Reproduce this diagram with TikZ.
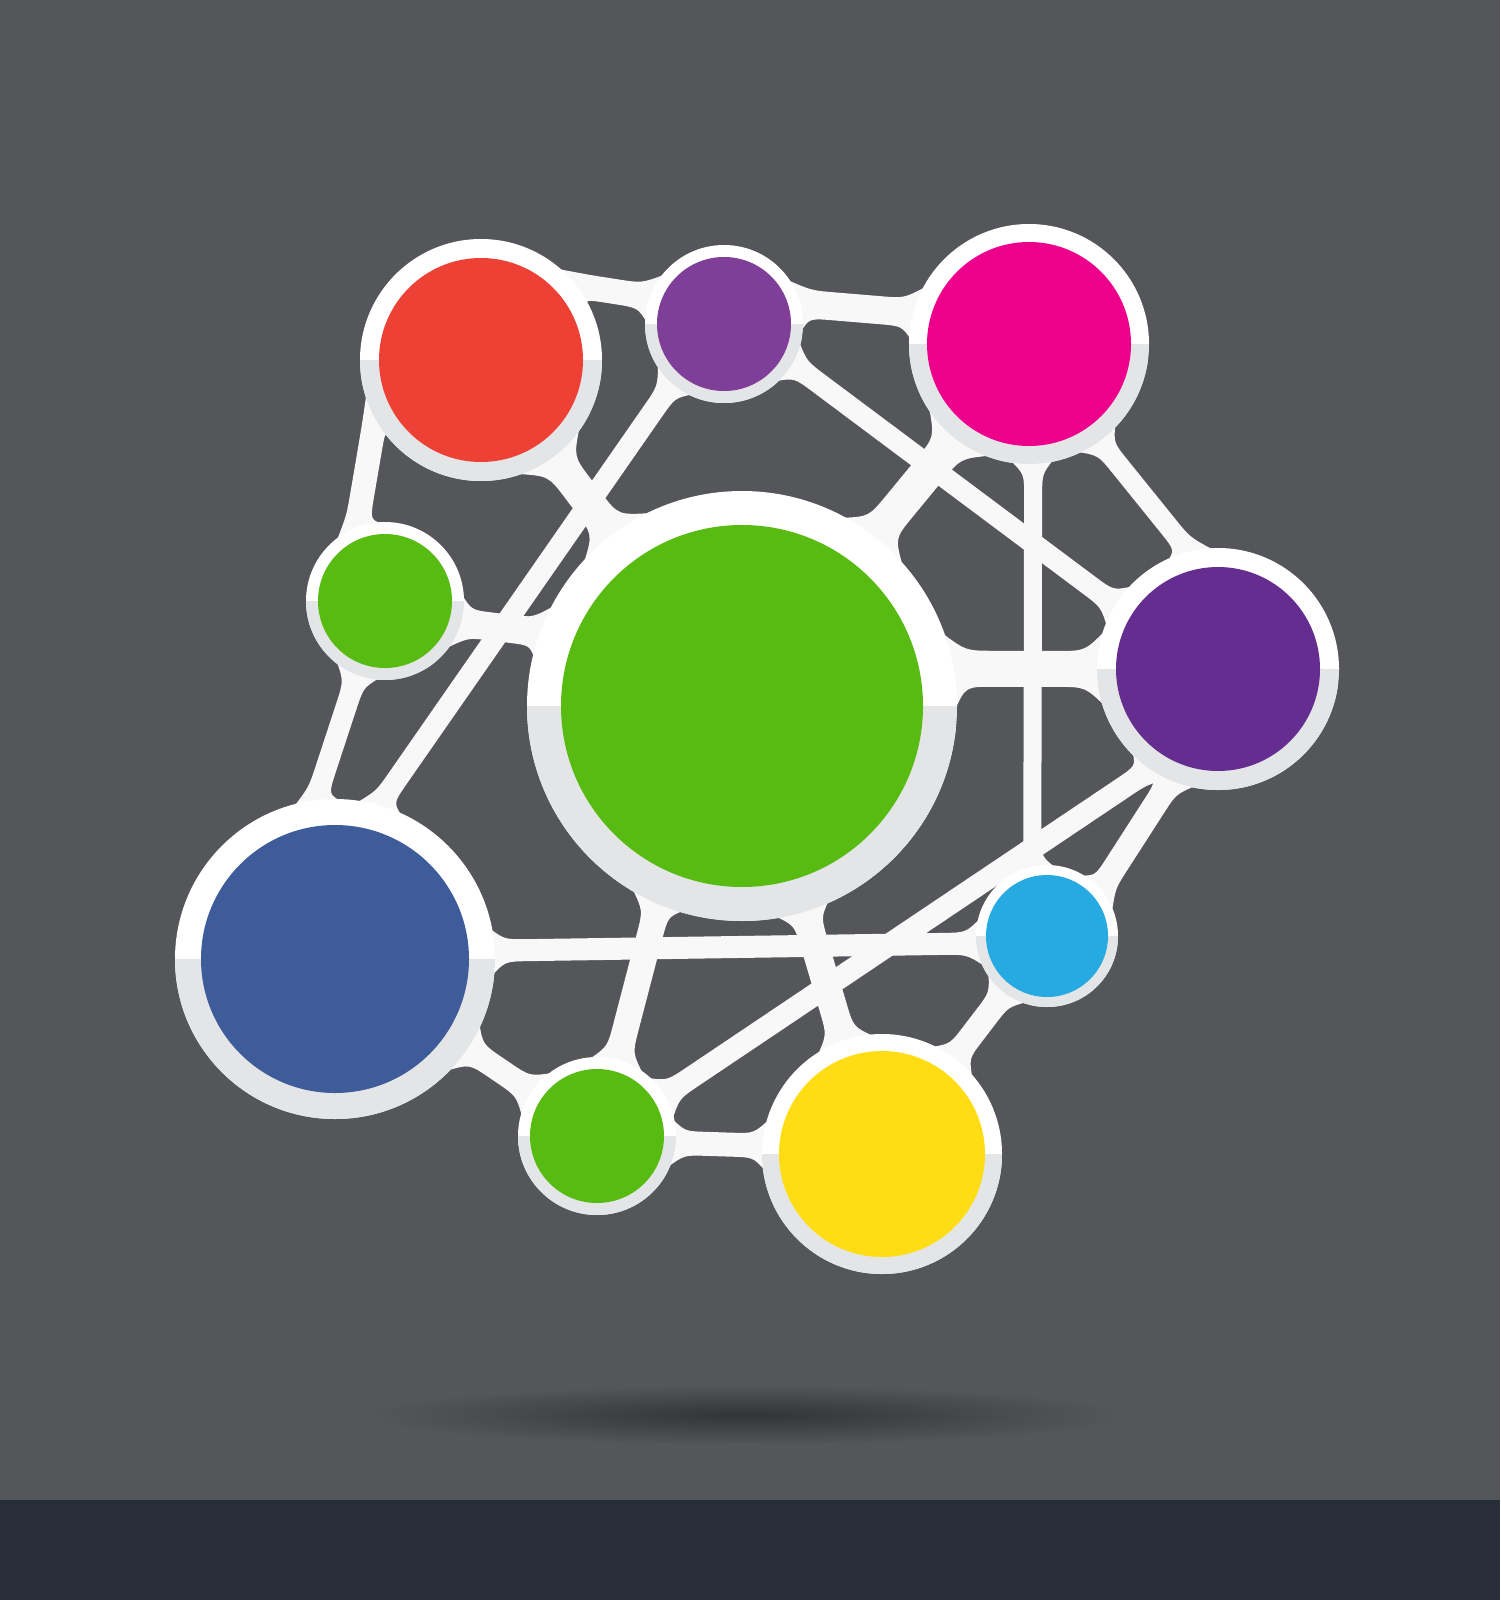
\documentclass[tikz,border=0pt]{standalone}
\usetikzlibrary{calc}
\definecolor{bgcol}{HTML}{55565A}
\definecolor{barcol}{HTML}{272D39}
\definecolor{shadowcol}{HTML}{333436}
\definecolor{ringlow}{HTML}{E4E5E6}
\definecolor{bandcol}{HTML}{F8F8F8}
\definecolor{cred}{HTML}{EE4136}
\definecolor{cpurplesmall}{HTML}{7F3F98}
\definecolor{cmagenta}{HTML}{EC008C}
\definecolor{cpurple}{HTML}{662D91}
\definecolor{cgreen}{HTML}{58BB12}
\definecolor{cblue}{HTML}{3F5C9A}
\definecolor{cyellow}{HTML}{FFDD15}
\definecolor{ccyan}{HTML}{27A9E1}
\pgfdeclarelayer{back}
\pgfdeclarelayer{bands}
\pgfsetlayers{back,bands,main}
\tikzset{
  hub/.style n args={3}{circle, inner sep=0pt, outer sep=0pt, minimum size=#1pt, fill=white,
    path picture={
      \fill[ringlow] (path picture bounding box.west) rectangle (path picture bounding box.south east);
      \fill[#3] (path picture bounding box.center) circle[radius=#2pt];
    }},
  bandfill/.style={fill=bandcol}
}
% outer radii of the hubs
\def\radred{121}\def\radsp{79}\def\radmag{120}\def\radpr{121}\def\radgrn{215}
\def\radsgl{79}\def\radblue{160}\def\radsgb{79}\def\radyel{120}\def\radcyan{71}
% #1 node A, #2 angle on A, #3 node B, #4 angle on B, #5 half width, #6 flare, #7 flare length
\newcommand{\linkband}[7]{%
 \pgfmathsetmacro\dA{deg((#5+#6)/\csname rad#1\endcsname)}%
 \pgfmathsetmacro\dB{deg((#5+#6)/\csname rad#3\endcsname)}%
 \pgfmathtruncatemacro\aAp{mod(#2+\dA+360,360)}%
 \pgfmathtruncatemacro\aAm{mod(#2-\dA+360,360)}%
 \pgfmathtruncatemacro\aBp{mod(#4+\dB+360,360)}%
 \pgfmathtruncatemacro\aBm{mod(#4-\dB+360,360)}%
 \fill[bandfill]
  ($(#1.\aAp)!2pt!(#1.center)$)
  .. controls ($($(#1.#2)!{0.3*#7pt}!(#3.#4)$)!#5pt!90:(#3.#4)$) .. ($($(#1.#2)!#7pt!(#3.#4)$)!#5pt!90:(#3.#4)$)
  -- ($($(#3.#4)!#7pt!(#1.#2)$)!#5pt!-90:(#1.#2)$)
  .. controls ($($(#3.#4)!{0.3*#7pt}!(#1.#2)$)!#5pt!-90:(#1.#2)$) .. ($(#3.\aBm)!2pt!(#3.center)$)
  -- ($(#3.\aBp)!2pt!(#3.center)$)
  .. controls ($($(#3.#4)!{0.3*#7pt}!(#1.#2)$)!#5pt!90:(#1.#2)$) .. ($($(#3.#4)!#7pt!(#1.#2)$)!#5pt!90:(#1.#2)$)
  -- ($($(#1.#2)!#7pt!(#3.#4)$)!#5pt!-90:(#3.#4)$)
  .. controls ($($(#1.#2)!{0.3*#7pt}!(#3.#4)$)!#5pt!-90:(#3.#4)$) .. ($(#1.\aAm)!2pt!(#1.center)$)
  -- cycle;}
\begin{document}
\begin{tikzpicture}[x=1pt,y=-1pt]
\useasboundingbox (0,0) rectangle (1500,1600);
\begin{pgfonlayer}{back}
  \fill[bgcol] (0,0) rectangle (1500,1500);
  \fill[barcol] (0,1500) rectangle (1500,1600);
  \shade[inner color=shadowcol, outer color=bgcol] (746,1415) ellipse [x radius=380, y radius=30];
\end{pgfonlayer}

% nodes
\node[hub={242}{102}{cred}]         (red)  at (481,360)  {};
\node[hub={158}{67}{cpurplesmall}]  (sp)   at (724,324)  {};
\node[hub={240}{102}{cmagenta}]     (mag)  at (1029,344) {};
\node[hub={242}{102}{cpurple}]      (pr)   at (1218,669) {};
\node[hub={430}{181}{cgreen}]       (grn)  at (742,706)  {};
\node[hub={158}{67}{cgreen}]        (sgl)  at (385,601)  {};
\node[hub={320}{134}{cblue}]        (blue) at (335,959)  {};
\node[hub={158}{67}{cgreen}]        (sgb)  at (597,1136) {};
\node[hub={240}{103}{cyellow}]      (yel)  at (882,1154) {};
\node[hub={142}{61}{ccyan}]         (cyan) at (1047,936) {};

% connectors
\begin{pgfonlayer}{bands}
  \linkband{red}{38}{sp}{160}{12.5}{14}{34}
  \linkband{sp}{15}{mag}{165}{14}{14}{34}
  \linkband{red}{307}{grn}{127}{16}{26}{40}
  \linkband{red}{209}{sgl}{111}{12}{14}{34}
  \linkband{sgl}{344}{grn}{160}{14}{16}{30}
  \linkband{sgl}{249}{blue}{97}{10.5}{14}{34}
  \linkband{sp}{229}{blue}{74}{10.5}{14}{34}
  \linkband{sp}{330}{pr}{148}{10.5}{14}{34}
  \linkband{mag}{232}{grn}{52}{17}{24}{40}
  \linkband{mag}{306}{pr}{104}{10}{14}{34}
  \linkband{mag}{272}{cyan}{102}{9}{14}{34}
  \linkband{grn}{10}{pr}{180}{18}{22}{40}
  \linkband{grn}{247}{sgb}{75}{13}{16}{34}
  \linkband{grn}{287}{yel}{109}{14}{16}{34}
  \linkband{blue}{3}{cyan}{186}{11}{14}{34}
  \linkband{blue}{326}{sgb}{146}{12}{16}{34}
  \linkband{sgb}{31}{pr}{236}{11}{14}{34}
  \linkband{sgb}{355}{yel}{176}{12}{14}{30}
  \linkband{yel}{53}{cyan}{233}{12}{14}{30}
  \linkband{cyan}{41}{pr}{247}{12}{14}{30}
\end{pgfonlayer}
\end{tikzpicture}
\end{document}
